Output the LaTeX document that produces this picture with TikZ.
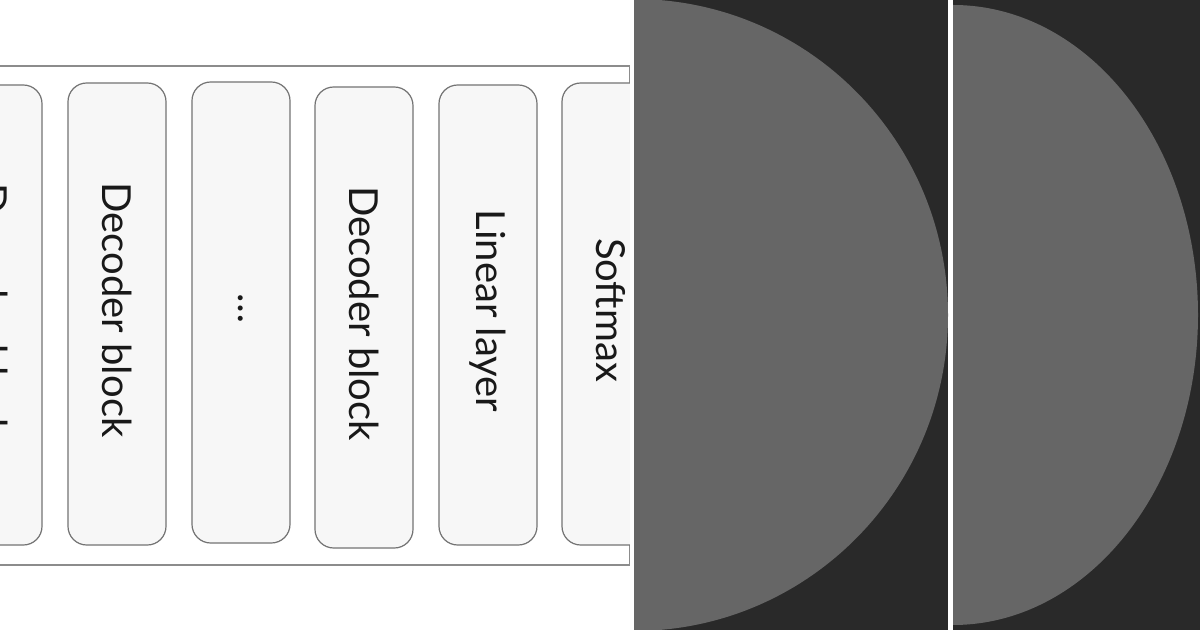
\documentclass[tikz,border=0pt]{standalone}
\usepackage{fontspec}
\setmainfont{Lato}
\begin{document}
\begin{tikzpicture}[x=0.75pt,y=-0.75pt,
  blk/.style={draw=black!55,fill=black!3,rounded corners=14pt,line width=0.9pt},
  lbl/.style={rotate=-90,font=\fontsize{30}{34}\selectfont,text=black!90}]
\useasboundingbox (0,0) rectangle (1200,630);
\clip (0,0) rectangle (1200,630);
\fill[white] (0,0) rectangle (1200,630);
\draw[black!45,line width=1pt] (-10,66) rectangle (630,565);
\foreach \n/\l/\t/\b/\txt in {a/-56/85/545/{Decoder block}, b/68/83/545/{Decoder block}, c/192/82/543/{\ldots}, d/315/87/548/{Decoder block}, e/439/85/545/{Linear layer}, f/562/83/545/{Softmax}}{
  \draw[blk] (\l,\t) rectangle ++(98,\b-\t);
  \node[lbl] (\n) at (\l+49,{(\t+\b)/2-4}) {\txt};
}
\fill[white] (630,0) rectangle (634,630);
\fill[black!84] (634,0) rectangle (948,630);
\fill[black!84] (953,0) rectangle (1200,630);
\begin{scope}
\clip (634,0) rectangle (948,630);
\fill[black!60] (634,315) ellipse [x radius=314, y radius=316];
\end{scope}
\begin{scope}
\clip (953,0) rectangle (1200,630);
\fill[black!60] (953,315) ellipse [x radius=245, y radius=310];
\end{scope}
\end{tikzpicture}
\end{document}
